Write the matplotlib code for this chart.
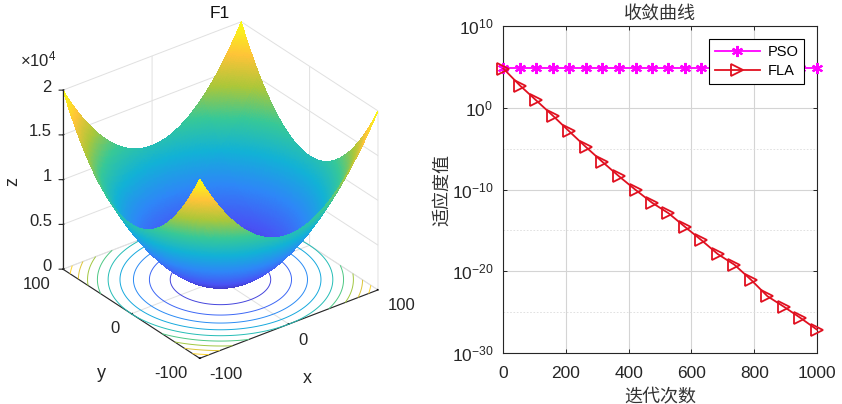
import numpy as np
import matplotlib
matplotlib.use('Agg')
import matplotlib.pyplot as plt
from matplotlib.colors import LinearSegmentedColormap
from matplotlib.ticker import NullFormatter
from mpl_toolkits.mplot3d import proj3d

plt.rcParams['font.family'] = ['Liberation Sans', 'Noto Sans CJK SC', 'DejaVu Sans']
plt.rcParams['mathtext.fontset'] = 'custom'
plt.rcParams['mathtext.rm'] = 'Liberation Sans'
plt.rcParams['mathtext.it'] = 'Liberation Sans'
plt.rcParams['mathtext.default'] = 'regular'
plt.rcParams['axes.unicode_minus'] = False

# Convergence curves (log10 of fitness)
iterations = [1, 54, 106, 159, 211, 264, 316, 369, 422, 474, 527, 579, 632, 684, 737, 790, 842, 895, 947, 1000]
pso_log = [4.85, 4.85, 4.85, 4.85, 4.85, 4.85, 4.85, 4.85, 4.85, 4.85, 4.85, 4.85, 4.85, 4.85, 4.85, 4.85, 4.85, 4.85, 4.85, 4.85]
fla_log = [4.8, 2.72, 0.89, -0.98, -2.89, -4.8, -6.6, -8.37, -10.04, -11.6, -12.9, -14.55, -16.2, -17.9, -19.2, -21.05, -23.05, -24.35, -25.7, -27.15]
xticks = [0, 200, 400, 600, 800, 1000]
yticks_exp = [-30, -20, -10, 0, 10]
yminor_exp = [-25, -15, -5, 5]

# F1 is the function z = x^2 + y^2, so the surface is evaluated on a grid
grid = np.arange(-100, 101, 1.0)
contour_levels = [2000, 4000, 6000, 8000, 10000, 12000, 14000, 16000, 18000]
ztick_vals = [0, 5000, 10000, 15000, 20000]
ztick_text = ['0', '0.5', '1', '1.5', '2']
xy_ticks = [-100, 0, 100]

parula_anchors = [(0.2422, 0.1504, 0.6603), (0.2810, 0.3228, 0.9579), (0.1786, 0.5289, 0.9682),
                  (0.0689, 0.6948, 0.8394), (0.2161, 0.7843, 0.5923), (0.6720, 0.7793, 0.2227),
                  (0.9970, 0.7659, 0.2199), (0.9769, 0.9839, 0.0805)]
parula = LinearSegmentedColormap.from_list('parula', parula_anchors, N=256)

W, H = 842, 404
TXT = '#262626'
fig = plt.figure(figsize=(W / 100, H / 100), dpi=100, facecolor='white')

# ---------- 3D panel ----------
ax = fig.add_axes([31.5 / W, 25 / H, 368 / W, 368 / H], projection='3d', computed_zorder=False)
ax.patch.set_alpha(0)
X, Y = np.meshgrid(grid, grid)
Z = X ** 2 + Y ** 2
ax.contour(X, Y, Z, levels=contour_levels, offset=0, zdir='z', cmap=parula, vmin=0, vmax=20000,
           linewidths=0.7, zorder=1)
ax.plot_surface(X, Y, Z, cmap=parula, vmin=0, vmax=20000, rstride=1, cstride=1,
                linewidth=0, antialiased=False, shade=False, zorder=2)
ax.set_proj_type('ortho')
ax.view_init(elev=30, azim=-127.5)
ax.set_box_aspect((1, 1, 0.92))
ax.set_xlim(-100, 100); ax.set_ylim(-100, 100); ax.set_zlim(0, 20000)
ax.set_xticks(xy_ticks); ax.set_yticks(xy_ticks); ax.set_zticks(ztick_vals)
ax.set_xticklabels([]); ax.set_yticklabels([]); ax.set_zticklabels([])
for a in (ax.xaxis, ax.yaxis, ax.zaxis):
    a.set_pane_color((1, 1, 1, 0))
    a.pane.set_edgecolor('#d9d9d9')
    a.line.set_color(TXT)
    a.line.set_linewidth(0.8)
    a._axinfo['grid'].update(color='#e0e0e0', linewidth=0.7)
    a._axinfo['tick'].update(inward_factor=0.0, outward_factor=0.06)
ax.zaxis.set_ticks_position('upper')

# z axis line with its ticks on the left edge
ax.plot([-100, -100], [100, 100], [0, 20000], color=TXT, lw=0.8, zorder=3, clip_on=False)


def project(x, y, z):
    x2, y2, _ = proj3d.proj_transform(x, y, z, ax.get_proj())
    return x2, y2


def label3d(x, y, z, text, dx, dy, ha, fs=12, rot=0):
    ax.annotate(text, project(x, y, z), xytext=(dx, dy), textcoords='offset pixels', ha=ha, va='center',
                fontsize=fs, color=TXT, rotation=rot, annotation_clip=False)


for v in xy_ticks:
    label3d(v, -100, 0, str(v), 10, -16, 'left')
    label3d(-100, v, 0, str(v), -12, -15, 'right')
for v, t in zip(ztick_vals, ztick_text):
    label3d(-100, 100, v, t, -11, 3, 'right')
    ax.annotate('', project(-100, 100, v), xytext=(-4, 0), textcoords='offset pixels',
                arrowprops=dict(arrowstyle='-', lw=0.8, color=TXT, shrinkA=0, shrinkB=0),
                annotation_clip=False)
label3d(0, -100, 0, 'x', 18, -54, 'center', fs=13)
label3d(-100, 0, 0, 'y', -30, -60, 'center', fs=13)
label3d(-100, 100, 10000, 'z', -50, -2, 'center', fs=13, rot=90)
fig.text(220 / W, 1 - 13 / H, 'F1', fontsize=12.5, ha='center', va='center', color='#111111')
fig.text(20 / W, 1 - 59 / H, r'$\times 10^4$', fontsize=12, ha='left', va='center', color=TXT)

# ---------- Convergence panel ----------
ax2 = fig.add_axes([503 / W, 1 - 353 / H, 314 / W, 327 / H])
pso_vals = [10.0 ** v for v in pso_log]
fla_vals = [10.0 ** v for v in fla_log]
ax2.semilogy(iterations, pso_vals, color='#ff00ff', lw=1.3, marker=(6, 2, 0), ms=8, mew=1.5, clip_on=False,
             label='PSO', zorder=3)
ax2.semilogy(iterations, fla_vals, color='#e01020', lw=1.3, marker='>', ms=9, mfc='none', mew=1.3,
             clip_on=False, label='FLA', zorder=4)
ax2.set_xlim(0, 1000)
ax2.set_ylim(1e-30, 1e10)
ax2.set_xticks(xticks)
ax2.set_xticklabels([str(t) for t in xticks])
ax2.set_yticks([10.0 ** e for e in yticks_exp])
ax2.set_yticklabels(['$10^{%d}$' % e for e in yticks_exp])
ax2.set_yticks([10.0 ** e for e in yminor_exp], minor=True)
ax2.yaxis.set_minor_formatter(NullFormatter())
ax2.grid(True, which='major', color='#d4d4d4', lw=0.8)
ax2.grid(True, which='minor', axis='y', color='#dcdcdc', lw=0.6, ls=(0, (2, 2)))
ax2.set_axisbelow(True)
ax2.tick_params(which='major', direction='in', top=True, right=True, length=3, width=0.7,
                labelsize=12.5, colors=TXT)
ax2.tick_params(axis='x', which='major', pad=9)
ax2.tick_params(axis='y', which='major', pad=7)
ax2.tick_params(which='minor', length=0)
for s in ax2.spines.values():
    s.set_linewidth(0.8)
    s.set_color(TXT)
ax2.set_title('收敛曲线', fontsize=13, pad=5, color='#333333')
ax2.set_xlabel('迭代次数', fontsize=13, labelpad=5.5, color='#333333')
ax2.set_ylabel('适应度值', fontsize=13, labelpad=0.5, color='#333333')
leg = ax2.legend(loc='upper left', bbox_to_anchor=((709 - 503) / 314, (353 - 39) / 327), borderaxespad=0,
                 fontsize=10.5, fancybox=False, framealpha=1, edgecolor='black', handlelength=3.1,
                 labelspacing=0.35, borderpad=0.4, handletextpad=0.5)
leg.get_frame().set_linewidth(0.8)

fig.savefig('out.png', dpi=100)
